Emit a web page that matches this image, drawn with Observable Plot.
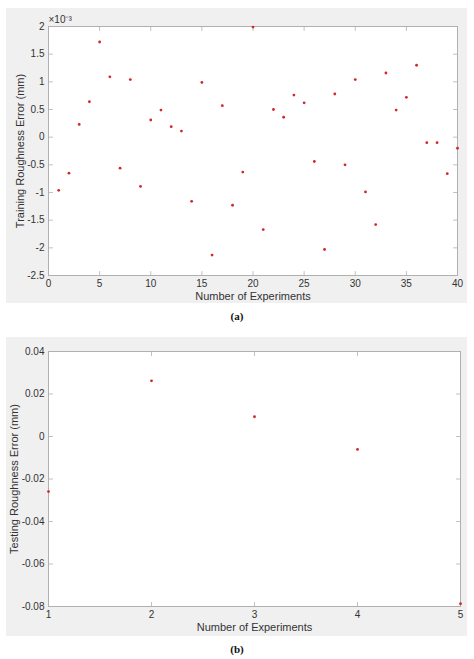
<!DOCTYPE html>
<html>
<head>
<meta charset="utf-8">
<script src="https://cdn.jsdelivr.net/npm/d3@7"></script>
<script src="https://cdn.jsdelivr.net/npm/@observablehq/plot@0.6"></script>
<style>
  body { margin: 0; background: #fff; }
  #root { position: relative; width: 474px; height: 659px; background: #fff; font-family: "Liberation Sans", Arial, sans-serif; }
  .panel { position: absolute; }
  .cap { position: absolute; width: 474px; left: 0; text-align: center; font-family: "Liberation Serif", "DejaVu Serif", serif; font-weight: bold; font-size: 11px; color: #111; }
</style>
</head>
<body>
<div id="root"></div>
<script>
// ---- Data (a): training roughness error, values in units of 10^-3 mm
const trainExp = [1,2,3,4,5,6,7,8,9,10,11,12,13,14,15,16,17,18,19,20,21,22,23,24,25,26,27,28,29,30,31,32,33,34,35,36,37,38,39,40];
const trainErr = [-0.96,-0.65,0.23,0.64,1.72,1.09,-0.56,1.04,-0.89,0.31,0.49,0.19,0.11,-1.16,0.99,-2.13,0.57,-1.23,-0.63,1.99,-1.67,0.50,0.36,0.76,0.62,-0.44,-2.03,0.78,-0.50,1.04,-0.99,-1.58,1.16,0.49,0.72,1.30,-0.10,-0.10,-0.66,-0.20];
const trainXTicks = [0,5,10,15,20,25,30,35,40];
const trainYTicks = [-2.5,-2,-1.5,-1,-0.5,0,0.5,1,1.5,2];

// ---- Data (b): testing roughness error (mm)
const testExp = [1,2,3,4,5];
const testErr = [-0.0259,0.0262,0.0093,-0.0061,-0.0787];
const testXTicks = [1,2,3,4,5];
const testYTicks = [-0.08,-0.06,-0.04,-0.02,0,0.02,0.04];

const axisColor = "#b0b0b0";
const textColor = "#333";
const dotColor = "#d0282e";
const bgGray = "#f0f0f0";

const tickShape = {draw(ctx, l) { ctx.moveTo(0, 0); ctx.lineTo(0, -l); }};
function inTicks(xt, yt) {
  const o = {length: 4, anchor: "start", shape: tickShape, stroke: axisColor, strokeWidth: 0.8};
  return [
    Plot.vector(xt, {...o, x: d => d, frameAnchor: "bottom", rotate: 0}),
    Plot.vector(xt, {...o, x: d => d, frameAnchor: "top", rotate: 180}),
    Plot.vector(yt, {...o, y: d => d, frameAnchor: "left", rotate: 90}),
    Plot.vector(yt, {...o, y: d => d, frameAnchor: "right", rotate: -90})
  ];
}
const fmtNum = d => String(+d.toFixed(4));

function panel(cfg) {
  const data = cfg.xs.map((x, i) => ({x, y: cfg.ys[i]}));
  const marks = [
    Plot.frame({fill: "white", stroke: "none"}),
    Plot.axisX(cfg.xTicks, {tickSize: 0, tickPadding: 4, tickFormat: fmtNum, fontSize: 10, color: textColor, label: null}),
    Plot.axisY(cfg.yTicks, {tickSize: 0, tickPadding: 4, tickFormat: fmtNum, fontSize: 10, color: textColor, label: null}),
    ...inTicks(cfg.xTicks, cfg.yTicks),
    Plot.frame({stroke: axisColor, strokeWidth: 1}),
    Plot.dot(data, {x: "x", y: "y", r: 1.4, fill: dotColor, stroke: "none"}),
    Plot.text([cfg.xLabel], {text: d => d, frameAnchor: "bottom", lineAnchor: "middle", textAnchor: "middle", dy: cfg.xLabelDy, fontSize: 11, fill: textColor}),
    Plot.text([cfg.yLabel], {text: d => d, frameAnchor: "left", lineAnchor: "middle", textAnchor: "middle", dx: cfg.yLabelDx, rotate: -90, fontSize: 11, fill: textColor})
  ];
  if (cfg.exponent) {
    marks.push(Plot.text([cfg.exponent], {text: d => d, frameAnchor: "top-left", lineAnchor: "middle", dy: -7, dx: 0, textAnchor: "start", fontSize: 10, fill: textColor}));
  }
  const svg = Plot.plot({
    width: cfg.width, height: cfg.height,
    marginLeft: cfg.ml, marginRight: cfg.mr, marginTop: cfg.mt, marginBottom: cfg.mb,
    style: {background: bgGray, fontFamily: "'Liberation Sans', Arial, sans-serif", overflow: "visible"},
    x: {domain: cfg.xDomain},
    y: {domain: cfg.yDomain},
    marks
  });
  svg.classList.add("panel");
  svg.style.left = cfg.left + "px";
  svg.style.top = cfg.top + "px";
  return svg;
}

const root = document.getElementById("root");
root.appendChild(panel({
  xs: trainExp, ys: trainErr, xTicks: trainXTicks, yTicks: trainYTicks,
  xDomain: [0, 40], yDomain: [-2.5, 2],
  width: 461, height: 295, left: 6, top: 8, ml: 42, mr: 10, mt: 18, mb: 28,
  xLabel: "Number of Experiments", yLabel: "Training Roughness Error (mm)",
  xLabelDy: 21, yLabelDx: -28, exponent: "×10⁻³"
}));
root.appendChild(panel({
  xs: testExp, ys: testErr, xTicks: testXTicks, yTicks: testYTicks,
  xDomain: [1, 5], yDomain: [-0.08, 0.04],
  width: 461, height: 299, left: 6, top: 337, ml: 42, mr: 7, mt: 14, mb: 30,
  xLabel: "Number of Experiments", yLabel: "Testing Roughness Error (mm)",
  xLabelDy: 21, yLabelDx: -34
}));

const capA = document.createElement("div");
capA.className = "cap"; capA.style.top = "310px"; capA.textContent = "(a)";
root.appendChild(capA);
const capB = document.createElement("div");
capB.className = "cap"; capB.style.top = "643px"; capB.textContent = "(b)";
root.appendChild(capB);
</script>
</body>
</html>
